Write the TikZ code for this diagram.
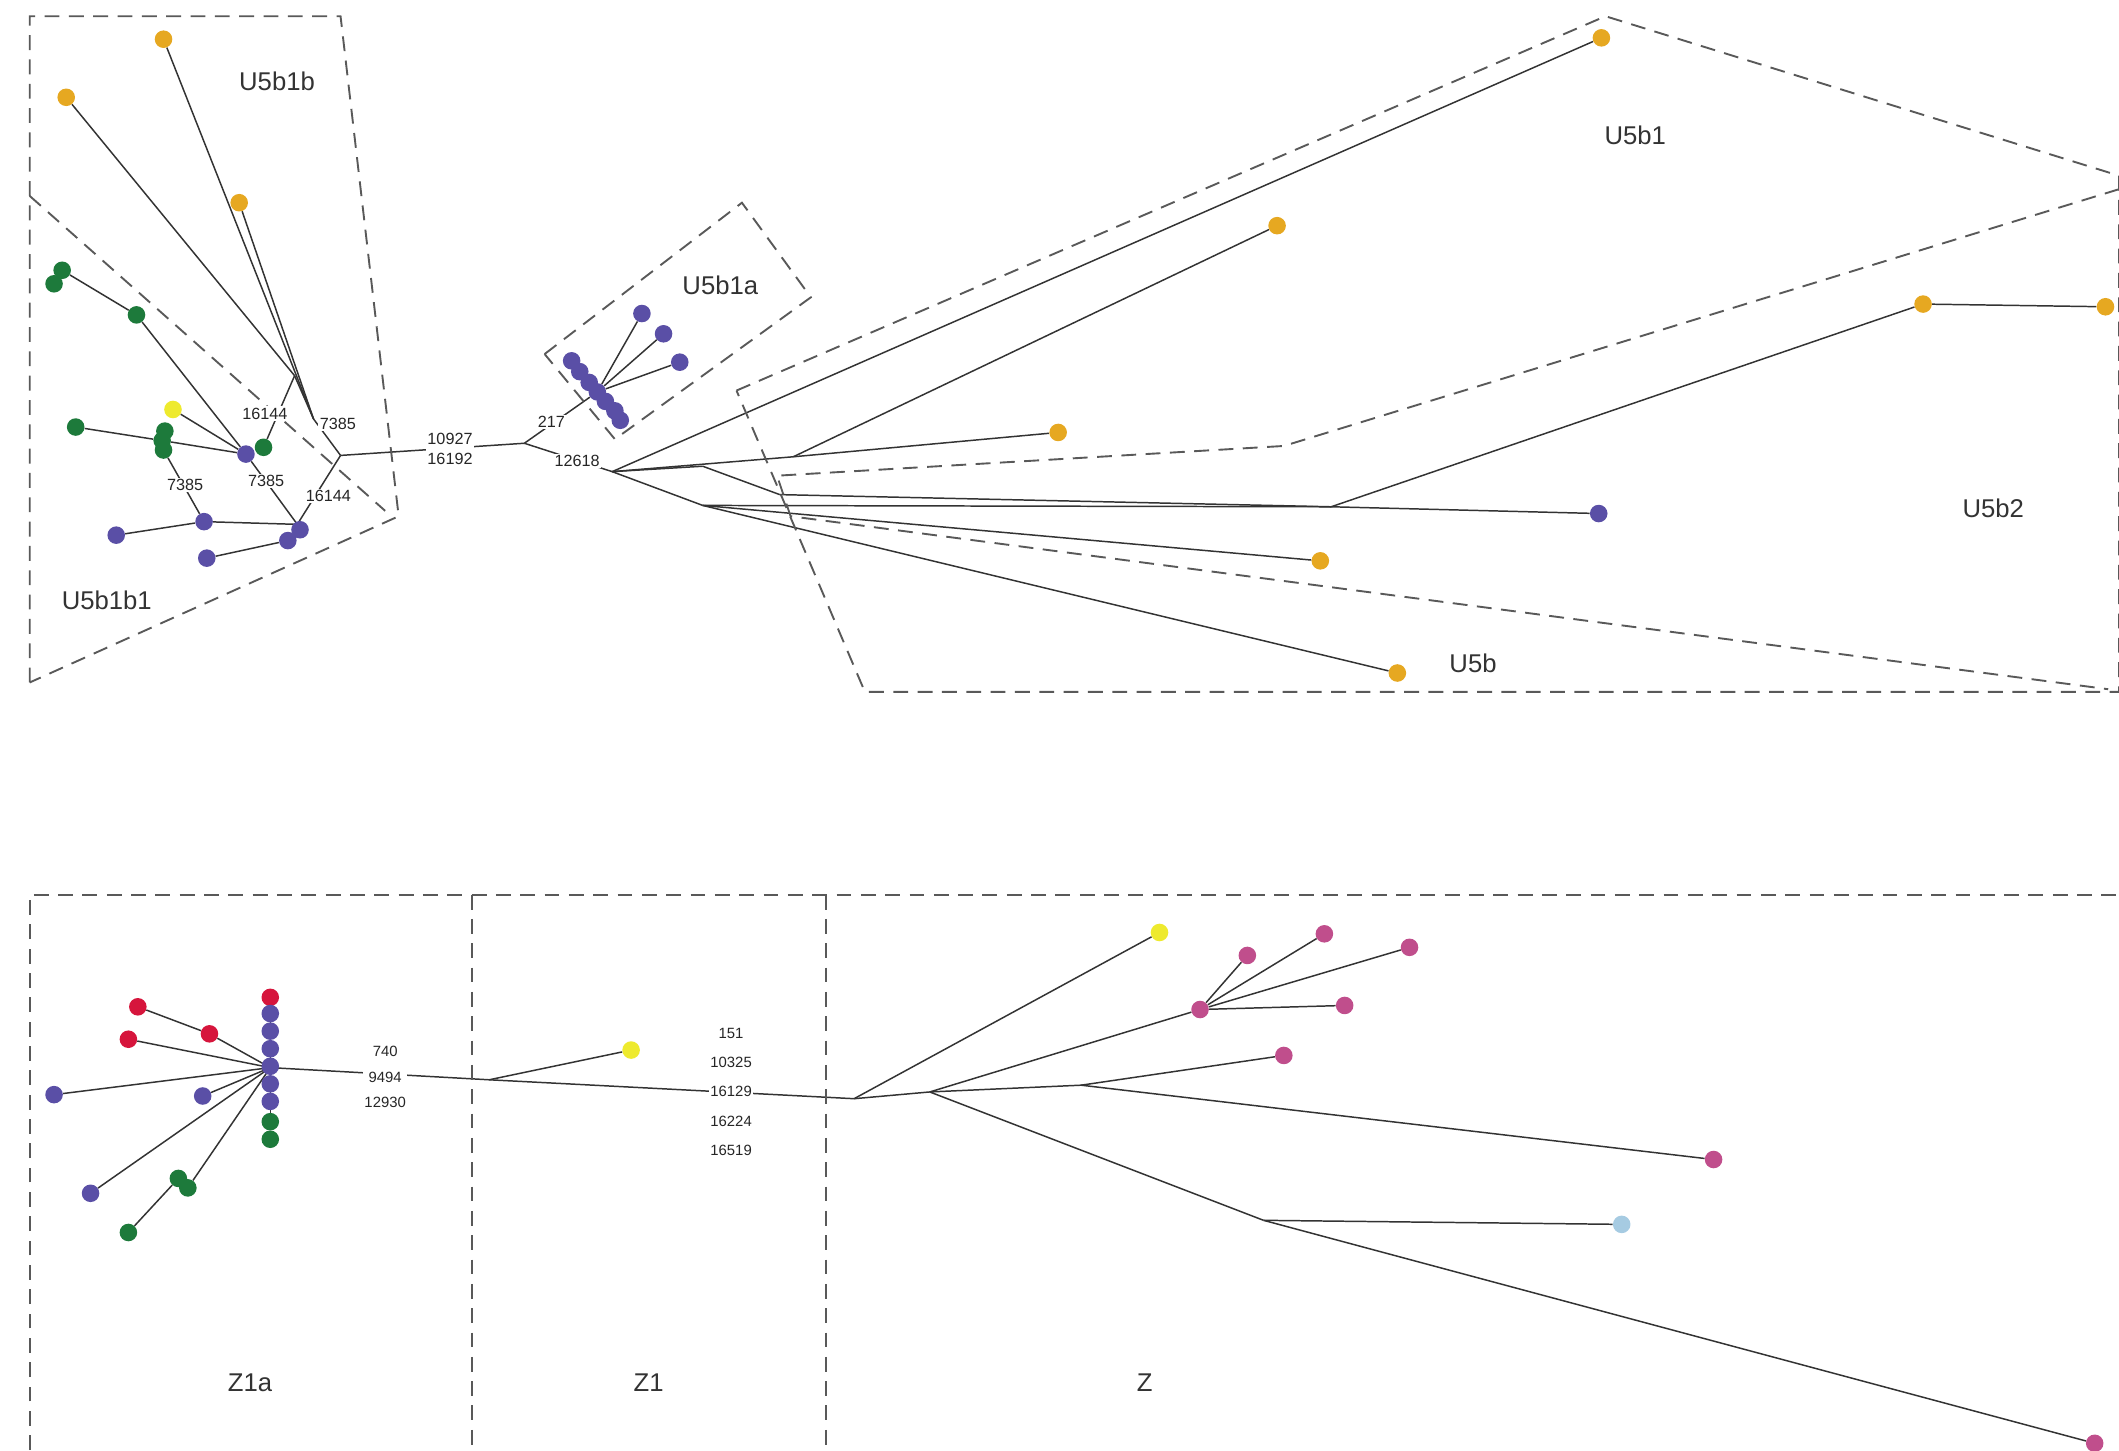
\documentclass[tikz,border=0pt]{standalone}
\usepackage{fontspec}
\setmainfont{Liberation Sans}
\usetikzlibrary{backgrounds}
\definecolor{cor}{HTML}{E6A821}
\definecolor{cbl}{HTML}{5A4FA6}
\definecolor{cgr}{HTML}{1D7A3B}
\definecolor{cye}{HTML}{EEEA2E}
\definecolor{cre}{HTML}{D6153C}
\definecolor{cpk}{HTML}{C04E8C}
\definecolor{clb}{HTML}{A6CBE2}
\tikzset{
 dot/.style={circle,inner sep=0pt,minimum size=13pt,fill=#1},
 edge/.style={draw=black!80,line width=1.1pt},
 box/.style={draw=black!65,dash pattern=on 11pt off 7pt,line width=1.4pt},
 big/.style={font=\fontsize{19}{22}\selectfont,text=black!80},
 num/.style={font=\fontsize{12}{15}\selectfont,fill=white,inner sep=1pt,align=center,text=black!85},
 jn/.style={coordinate}
}
\begin{document}
\begin{tikzpicture}[x=1pt,y=-1pt]
\useasboundingbox (0,0) rectangle (1568,1073);
% ---------- boxes
\draw[box] (22,505) -- (22,12) -- (252,12) -- (295,382) -- cycle;
\draw[box] (22,145) -- (285,378);
\draw[box] (403,262) -- (549,150) -- (600,220) -- (455,325) -- cycle;
\draw[box] (545,289) -- (1188,12) -- (1568,130) -- (1568,512) -- (640,512) -- cycle;
\draw[box] (1568,140) -- (950,330) -- (575,352) -- (585,382) -- (1560,510);
\draw[box] (22,1073) -- (22,662) -- (1568,662);
\draw[box] (349,662) -- (349,1073);
\draw[box] (611,662) -- (611,1073);
% ---------- group labels
\node[big] (lU5b1b) at (205,60) {U5b1b};
\node[big] (lU5b1b1) at (79,444) {U5b1b1};
\node[big] (lU5b1a) at (533,211) {U5b1a};
\node[big] (lU5b1) at (1210,100) {U5b1};
\node[big] (lU5b2) at (1475,376) {U5b2};
\node[big] (lU5b) at (1090,491) {U5b};
\node[big] (lZ1a) at (185,1023) {Z1a};
\node[big] (lZ1) at (480,1023) {Z1};
\node[big] (lZ) at (847,1023) {Z};
% ---------- junctions
\node[jn] (A) at (252,337) {};
\node[jn] (C1) at (232,310) {};
\node[jn] (C2) at (218,278) {};
\node[jn] (D) at (220,388) {};
\node[jn] (J1) at (388,328) {};
\node[jn] (R) at (453,349) {};
\node[jn] (J2) at (520,345) {};
\node[jn] (J3) at (577,366) {};
\node[jn] (J4) at (985,375) {};
\node[jn] (J5) at (520,374) {};
\node[jn] (J6) at (587,338) {};
\node[jn] (H) at (200,790) {};
\node[jn] (K1) at (362,799) {};
\node[jn] (K2) at (632,813) {};
\node[jn] (K3) at (688,808) {};
\node[jn] (K4) at (800,803) {};
\node[jn] (K5) at (935,903) {};
% ---------- top dots
\node[dot=cor] (o1) at (121,29) {};
\node[dot=cor] (o2) at (49,72) {};
\node[dot=cor] (o3) at (177,150) {};
\node[dot=cor] (o4) at (1185,28) {};
\node[dot=cor] (o5) at (945,167) {};
\node[dot=cor] (o6) at (783,320) {};
\node[dot=cor] (o7) at (977,415) {};
\node[dot=cor] (o8) at (1034,498) {};
\node[dot=cor] (o9) at (1423,225) {};
\node[dot=cor] (o10) at (1558,227) {};
\node[dot=cbl] (b0) at (1183,380) {};
\node[dot=cgr] (g1) at (46,200) {};
\node[dot=cgr] (g2) at (40,210) {};
\node[dot=cgr] (g3) at (101,233) {};
\node[dot=cgr] (g4) at (56,316) {};
\node[dot=cgr] (g5) at (122,319) {};
\node[dot=cgr] (g6) at (120,326) {};
\node[dot=cgr] (g7) at (121,333) {};
\node[dot=cgr] (g8) at (195,331) {};
\node[dot=cye] (y1) at (128,303) {};
\node[dot=cbl] (b1) at (182,336) {};
\node[dot=cbl] (b2) at (151,386) {};
\node[dot=cbl] (b3) at (86,396) {};
\node[dot=cbl] (b4) at (153,413) {};
\node[dot=cbl] (b5) at (213,400) {};
\node[dot=cbl] (b6) at (222,392) {};
\node[dot=cbl] (a1) at (475,232) {};
\node[dot=cbl] (a2) at (491,247) {};
\node[dot=cbl] (a3) at (503,268) {};
\node[dot=cbl] (c1) at (423,267) {};
\node[dot=cbl] (c2) at (429,275) {};
\node[dot=cbl] (c3) at (436,283) {};
\node[dot=cbl] (c4) at (442,290) {};
\node[dot=cbl] (c5) at (448,297) {};
\node[dot=cbl] (c6) at (455,304) {};
\node[dot=cbl] (c7) at (459,311) {};
% ---------- bottom dots
\node[dot=cre] (h0) at (200,738) {};
\node[dot=cbl] (h1) at (200,750) {};
\node[dot=cbl] (h2) at (200,763) {};
\node[dot=cbl] (h3) at (200,776) {};
\node[dot=cbl] (h4) at (200,789) {};
\node[dot=cbl] (h5) at (200,802) {};
\node[dot=cbl] (h6) at (200,815) {};
\node[dot=cgr] (h7) at (200,830) {};
\node[dot=cgr] (h8) at (200,843) {};
\node[dot=cre] (r1) at (102,745) {};
\node[dot=cre] (r2) at (155,765) {};
\node[dot=cre] (r3) at (95,769) {};
\node[dot=cbl] (p1) at (40,810) {};
\node[dot=cbl] (p2) at (150,811) {};
\node[dot=cbl] (p3) at (67,883) {};
\node[dot=cgr] (q1) at (95,912) {};
\node[dot=cgr] (q2) at (132,872) {};
\node[dot=cgr] (q3) at (139,879) {};
\node[dot=cye] (y2) at (467,777) {};
\node[dot=cye] (y3) at (858,690) {};
\node[dot=cpk] (k1) at (888,747) {};
\node[dot=cpk] (k2) at (923,707) {};
\node[dot=cpk] (k3) at (980,691) {};
\node[dot=cpk] (k4) at (1043,701) {};
\node[dot=cpk] (k5) at (995,744) {};
\node[dot=cpk] (k6) at (950,781) {};
\node[dot=cpk] (k7) at (1268,858) {};
\node[dot=clb] (k8) at (1200,906) {};
\node[dot=cpk] (k9) at (1550,1068) {};
% ---------- mutation labels
\node[num] (m1) at (333,332) {10927\\16192};
\node[num] (m2) at (408,312) {217};
\node[num] (m3) at (427,341) {12618};
\node[num] (m4) at (196,306) {16144};
\node[num] (m5) at (250,314) {7385};
\node[num] (m6) at (243,367) {16144};
\node[num] (m7) at (197,356) {7385};
\node[num] (m8) at (137,359) {7385};
\node[num,font=\fontsize{11}{19}\selectfont] (m9) at (285,797) {740\\9494\\12930};
\node[num,font=\fontsize{11}{21.5}\selectfont] (m10) at (541,808) {151\\10325\\16129\\16224\\16519};
% ---------- edges
\begin{scope}[on background layer]
\draw[edge] (A) -- (J1); \draw[edge] (J1) -- (c4); \draw[edge] (J1) -- (R);
\draw[edge] (c4) -- (a1); \draw[edge] (c4) -- (a2); \draw[edge] (c4) -- (a3);
\draw[edge] (A) -- (C1); \draw[edge] (C1) -- (o1); \draw[edge] (C1) -- (o3);
\draw[edge] (C1) -- (C2); \draw[edge] (C2) -- (o2); \draw[edge] (C2) -- (g8);
\draw[edge] (A) -- (D); \draw[edge] (D) -- (b1); \draw[edge] (D) -- (b2);
\draw[edge] (b2) -- (b3); \draw[edge] (b5) -- (b4);
\draw[edge] (b2) -- (g7); \draw[edge] (g4) -- (g6); \draw[edge] (g6) -- (b1);
\draw[edge] (y1) -- (b1); \draw[edge] (g3) -- (b1); \draw[edge] (g1) -- (g3);
\draw[edge] (R) -- (o4); \draw[edge] (R) -- (J6); \draw[edge] (J6) -- (o5); \draw[edge] (J6) -- (o6);
\draw[edge] (R) -- (J2); \draw[edge] (J2) -- (J3); \draw[edge] (J3) -- (J4);
\draw[edge] (J4) -- (b0); \draw[edge] (J4) -- (o9); \draw[edge] (o9) -- (o10);
\draw[edge] (R) -- (J5); \draw[edge] (J5) -- (J4); \draw[edge] (J5) -- (o7); \draw[edge] (J5) -- (o8);
\draw[edge] (h0) -- (h8);
\draw[edge] (H) -- (r2); \draw[edge] (r2) -- (r1); \draw[edge] (H) -- (r3);
\draw[edge] (H) -- (p1); \draw[edge] (H) -- (p2); \draw[edge] (H) -- (p3);
\draw[edge] (H) -- (q3); \draw[edge] (q2) -- (q1);
\draw[edge] (H) -- (K1); \draw[edge] (K1) -- (y2); \draw[edge] (K1) -- (K2);
\draw[edge] (K2) -- (y3); \draw[edge] (K2) -- (K3); \draw[edge] (K3) -- (k1);
\draw[edge] (k1) -- (k2); \draw[edge] (k1) -- (k3); \draw[edge] (k1) -- (k4); \draw[edge] (k1) -- (k5);
\draw[edge] (K3) -- (K4); \draw[edge] (K4) -- (k6); \draw[edge] (K4) -- (k7);
\draw[edge] (K3) -- (K5); \draw[edge] (K5) -- (k8); \draw[edge] (K5) -- (k9);
\end{scope}
\end{tikzpicture}
\end{document}
